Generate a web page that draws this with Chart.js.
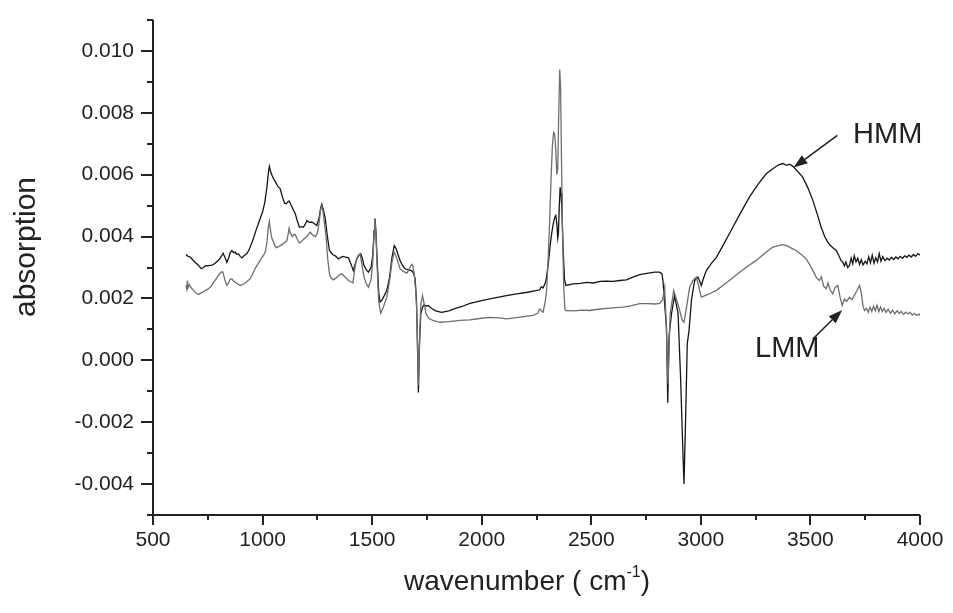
<!DOCTYPE html>
<html>
<head>
<meta charset="utf-8">
<script src="https://cdn.jsdelivr.net/npm/chart.js@4.4.1/dist/chart.umd.min.js"></script>
<style>
  html, body { margin: 0; padding: 0; background: #fff; }
  #wrap { width: 953px; height: 613px; position: relative; }
</style>
</head>
<body>
<div id="wrap"><canvas id="spectrum"></canvas></div>
<script>
// HMM (black) spectrum: wavenumber / absorption
const hmmWave = [650,660,670,680,690,700,710,720,730,740,750,760,770,780,790,800,810,820,830,837,845,852,860,868,875,882,890,898,906,915,928,940,950,960,970,980,990,1000,1010,1020,1027,1031,1036,1043,1050,1060,1070,1080,1090,1100,1108,1115,1121,1128,1138,1149,1158,1168,1178,1186,1195,1202,1212,1225,1235,1247,1258,1265,1270,1276,1285,1295,1305,1320,1335,1345,1354,1365,1375,1392,1404,1414,1422,1430,1440,1448,1455,1463,1473,1483,1495,1503,1509,1513,1517,1523,1530,1536,1545,1556,1567,1580,1590,1601,1610,1620,1627,1640,1650,1665,1680,1690,1696,1702,1706,1711,1716,1722,1730,1738,1746,1756,1770,1790,1817,1850,1880,1910,1946,1980,2020,2060,2113,2160,2210,2265,2272,2280,2290,2296,2305,2312,2319,2326,2333,2338,2343,2347,2350,2354,2358,2362,2366,2372,2378,2384,2417,2450,2480,2510,2540,2569,2600,2630,2660,2690,2721,2760,2790,2812,2822,2827,2835,2843,2849,2855,2866,2880,2896,2908,2916,2923,2931,2938,2946,2957,2964,2972,2987,3002,3012,3025,3050,3071,3100,3146,3180,3222,3260,3298,3330,3355,3374,3390,3405,3420,3440,3465,3490,3511,3530,3549,3565,3579,3590,3605,3618,3630,3640,3648,3655,3662,3670,3678,3686,3693,3700,3708,3716,3724,3732,3740,3750,3758,3766,3774,3782,3790,3798,3806,3814,3822,3830,3840,3850,3860,3870,3880,3890,3900,3910,3920,3930,3940,3950,3960,3970,3980,3990,4000];
const hmmAbs = [0.00342,0.00336,0.00334,0.00326,0.00318,0.00312,0.00305,0.00296,0.00300,0.00306,0.00305,0.00307,0.00308,0.00312,0.00318,0.00324,0.00334,0.00346,0.00330,0.00317,0.00330,0.00348,0.00355,0.00348,0.00350,0.00343,0.00344,0.00336,0.00331,0.00338,0.00344,0.00360,0.00378,0.00398,0.00420,0.00440,0.00460,0.00480,0.00510,0.00560,0.00610,0.00627,0.00612,0.00598,0.00587,0.00575,0.00562,0.00555,0.00530,0.00508,0.00506,0.00512,0.00515,0.00505,0.00490,0.00474,0.00452,0.00430,0.00432,0.00430,0.00440,0.00452,0.00446,0.00447,0.00442,0.00436,0.00460,0.00492,0.00505,0.00490,0.00463,0.00405,0.00355,0.00342,0.00336,0.00328,0.00331,0.00336,0.00334,0.00331,0.00310,0.00290,0.00310,0.00328,0.00340,0.00344,0.00330,0.00306,0.00293,0.00285,0.00300,0.00340,0.00420,0.00458,0.00420,0.00320,0.00220,0.00188,0.00195,0.00210,0.00226,0.00270,0.00330,0.00371,0.00360,0.00338,0.00323,0.00305,0.00296,0.00292,0.00290,0.00280,0.00263,0.00200,0.00080,-0.00104,0.00050,0.00150,0.00172,0.00180,0.00175,0.00177,0.00168,0.00160,0.00155,0.00160,0.00168,0.00174,0.00184,0.00190,0.00196,0.00202,0.00209,0.00215,0.00220,0.00228,0.00238,0.00234,0.00250,0.00269,0.00320,0.00370,0.00409,0.00440,0.00462,0.00468,0.00440,0.00395,0.00410,0.00500,0.00559,0.00540,0.00480,0.00350,0.00260,0.00242,0.00247,0.00249,0.00252,0.00250,0.00255,0.00256,0.00255,0.00258,0.00260,0.00269,0.00277,0.00282,0.00285,0.00285,0.00280,0.00258,0.00180,0.00107,-0.00137,0.00080,0.00151,0.00209,0.00151,-0.00066,-0.00250,-0.00400,-0.00173,0.00054,0.00096,0.00193,0.00226,0.00258,0.00269,0.00242,0.00265,0.00290,0.00315,0.00333,0.00370,0.00430,0.00475,0.00528,0.00568,0.00603,0.00620,0.00632,0.00636,0.00630,0.00634,0.00627,0.00612,0.00592,0.00555,0.00517,0.00475,0.00430,0.00400,0.00382,0.00372,0.00362,0.00355,0.00338,0.00322,0.00317,0.00305,0.00318,0.00300,0.00306,0.00330,0.00312,0.00338,0.00318,0.00330,0.00310,0.00325,0.00308,0.00320,0.00312,0.00335,0.00315,0.00340,0.00314,0.00332,0.00318,0.00345,0.00320,0.00335,0.00322,0.00330,0.00324,0.00333,0.00326,0.00334,0.00328,0.00336,0.00330,0.00338,0.00333,0.00340,0.00334,0.00342,0.00336,0.00345,0.00340];

// LMM (grey) spectrum
const lmmWave = [650,654,657,660,665,672,680,690,700,708,720,735,750,761,775,790,800,807,814,819,828,837,845,852,860,870,880,890,898,910,925,943,955,965,974,985,995,1004,1012,1020,1026,1031,1036,1042,1047,1055,1062,1075,1088,1100,1111,1116,1121,1127,1136,1142,1149,1158,1168,1178,1190,1202,1210,1217,1228,1240,1250,1258,1265,1270,1276,1283,1290,1297,1305,1313,1323,1335,1350,1361,1375,1392,1412,1420,1427,1436,1445,1453,1463,1473,1483,1495,1503,1509,1513,1517,1523,1530,1539,1550,1560,1567,1580,1590,1600,1610,1627,1640,1658,1666,1673,1680,1685,1692,1698,1703,1707,1711,1716,1722,1730,1738,1746,1760,1780,1809,1850,1900,1946,2000,2037,2080,2113,2160,2200,2235,2255,2265,2272,2280,2290,2296,2303,2310,2317,2323,2328,2333,2338,2343,2347,2351,2356,2360,2364,2369,2375,2380,2384,2420,2460,2493,2530,2570,2610,2645,2680,2721,2760,2790,2812,2825,2835,2843,2850,2860,2876,2900,2915,2923,2932,2949,2964,2979,2990,3002,3030,3071,3120,3177,3215,3253,3290,3329,3350,3374,3395,3415,3435,3458,3481,3500,3515,3526,3540,3550,3560,3572,3580,3590,3602,3612,3625,3635,3645,3655,3665,3678,3690,3700,3712,3724,3733,3740,3747,3756,3764,3772,3780,3788,3796,3804,3812,3820,3828,3836,3845,3855,3865,3875,3885,3895,3905,3915,3925,3935,3945,3955,3965,3975,3985,3995,4000];
const lmmAbs = [0.00242,0.00230,0.00258,0.00235,0.00245,0.00236,0.00230,0.00222,0.00216,0.00213,0.00218,0.00224,0.00230,0.00236,0.00250,0.00265,0.00276,0.00282,0.00286,0.00285,0.00260,0.00242,0.00250,0.00262,0.00263,0.00255,0.00250,0.00245,0.00242,0.00245,0.00252,0.00263,0.00280,0.00295,0.00306,0.00318,0.00330,0.00339,0.00350,0.00380,0.00430,0.00449,0.00420,0.00395,0.00387,0.00372,0.00364,0.00368,0.00374,0.00380,0.00387,0.00405,0.00427,0.00410,0.00400,0.00406,0.00407,0.00392,0.00379,0.00385,0.00393,0.00400,0.00408,0.00414,0.00405,0.00400,0.00410,0.00445,0.00488,0.00501,0.00480,0.00440,0.00398,0.00330,0.00280,0.00266,0.00260,0.00266,0.00276,0.00280,0.00270,0.00258,0.00250,0.00290,0.00322,0.00338,0.00344,0.00310,0.00269,0.00248,0.00236,0.00260,0.00320,0.00410,0.00452,0.00410,0.00300,0.00190,0.00152,0.00170,0.00190,0.00204,0.00260,0.00315,0.00350,0.00335,0.00296,0.00288,0.00282,0.00290,0.00301,0.00310,0.00306,0.00280,0.00230,0.00172,0.00050,-0.00080,0.00060,0.00180,0.00209,0.00180,0.00150,0.00135,0.00128,0.00123,0.00125,0.00129,0.00131,0.00136,0.00139,0.00137,0.00134,0.00138,0.00142,0.00145,0.00152,0.00166,0.00160,0.00155,0.00190,0.00226,0.00320,0.00450,0.00600,0.00700,0.00736,0.00730,0.00680,0.00600,0.00620,0.00780,0.00940,0.00880,0.00650,0.00400,0.00220,0.00165,0.00161,0.00160,0.00162,0.00161,0.00165,0.00168,0.00170,0.00172,0.00176,0.00183,0.00183,0.00182,0.00184,0.00195,0.00236,0.00100,-0.00076,0.00150,0.00226,0.00170,0.00130,0.00123,0.00160,0.00236,0.00258,0.00269,0.00240,0.00204,0.00212,0.00226,0.00252,0.00285,0.00305,0.00323,0.00345,0.00366,0.00370,0.00374,0.00370,0.00362,0.00355,0.00342,0.00328,0.00305,0.00285,0.00269,0.00258,0.00270,0.00240,0.00231,0.00250,0.00228,0.00215,0.00235,0.00242,0.00205,0.00177,0.00198,0.00190,0.00204,0.00196,0.00210,0.00225,0.00242,0.00215,0.00175,0.00161,0.00168,0.00155,0.00172,0.00158,0.00175,0.00160,0.00178,0.00157,0.00172,0.00158,0.00168,0.00155,0.00165,0.00152,0.00162,0.00150,0.00160,0.00152,0.00158,0.00148,0.00156,0.00150,0.00155,0.00146,0.00152,0.00145,0.00150,0.00145];

// axis range and tick steps
const xMin = 500, xMax = 4000, xStep = 250;
const yMin = -0.005, yMax = 0.011, yStep = 0.001;

// labels with arrows: text position, arrow tail, arrow head (data units)
const labels = [
  { text: 'HMM', at: [3640, 0.00727], tail: [3623, 0.00727], head: [3423, 0.00623], align: 'left' },
  { text: 'LMM', at: [3505, 0.00035], tail: [3511, 0.00069], head: [3645, 0.00163], align: 'right' }
];

const FONT = "'Liberation Sans', Arial, Helvetica, sans-serif";
const INK = '#222';

const pairs = (xs, ys) => xs.map((x, i) => ({ x: x, y: ys[i] }));

const decor = {
  id: 'decor',
  afterDraw(chart) {
    const ctx = chart.ctx;
    const xs = chart.scales.x, ys = chart.scales.y;
    const a = chart.chartArea;
    ctx.save();
    ctx.strokeStyle = INK;
    ctx.lineWidth = 2;
    ctx.lineCap = 'butt';
    // axis lines
    ctx.beginPath();
    ctx.moveTo(a.left, a.top);
    ctx.lineTo(a.left, a.bottom + 1);
    ctx.moveTo(a.left - 1, a.bottom);
    ctx.lineTo(a.right, a.bottom);
    ctx.stroke();
    // y ticks, long on labelled values
    for (let k = Math.round(yMin * 1000); k <= Math.round(yMax * 1000); k++) {
      const py = Math.round(ys.getPixelForValue(k / 1000));
      const len = (k % 2 === 0) ? 12 : 6;
      ctx.beginPath();
      ctx.moveTo(a.left, py);
      ctx.lineTo(a.left - len, py);
      ctx.stroke();
    }
    // x ticks
    for (let v = xMin; v <= xMax; v += xStep) {
      const px = Math.round(xs.getPixelForValue(v));
      const len = (v % 500 === 0) ? 10 : 5;
      ctx.beginPath();
      ctx.moveTo(px, a.bottom);
      ctx.lineTo(px, a.bottom + len);
      ctx.stroke();
    }

    // axis titles
    ctx.fillStyle = INK;
    ctx.textBaseline = 'alphabetic';
    const main = 'wavenumber ( cm';
    ctx.font = '28px ' + FONT;
    const w1 = ctx.measureText(main).width;
    ctx.font = '16px ' + FONT;
    const w2 = ctx.measureText('-1').width;
    ctx.font = '28px ' + FONT;
    const w3 = ctx.measureText(')').width;
    const tx = 527 - (w1 + w2 + w3) / 2;
    const ty = 590;
    ctx.textAlign = 'left';
    ctx.fillText(main, tx, ty);
    ctx.font = '16px ' + FONT;
    ctx.fillText('-1', tx + w1, ty - 13);
    ctx.font = '28px ' + FONT;
    ctx.fillText(')', tx + w1 + w2, ty);

    ctx.save();
    ctx.translate(35, 247);
    ctx.rotate(-Math.PI / 2);
    ctx.textAlign = 'center';
    ctx.font = '30px ' + FONT;
    ctx.fillText('absorption', 0, 0);
    ctx.restore();

    // annotations
    labels.forEach(l => {
      const hx = xs.getPixelForValue(l.head[0]), hy = ys.getPixelForValue(l.head[1]);
      const sx = xs.getPixelForValue(l.tail[0]), sy = ys.getPixelForValue(l.tail[1]);
      const ang = Math.atan2(hy - sy, hx - sx);
      const hl = 14, hw = 5;
      const bx = hx - hl * Math.cos(ang), by = hy - hl * Math.sin(ang);
      ctx.lineWidth = 1.6;
      ctx.beginPath();
      ctx.moveTo(sx, sy);
      ctx.lineTo(bx, by);
      ctx.stroke();
      ctx.beginPath();
      ctx.moveTo(hx, hy);
      ctx.lineTo(bx + hw * Math.sin(ang), by - hw * Math.cos(ang));
      ctx.lineTo(bx - hw * Math.sin(ang), by + hw * Math.cos(ang));
      ctx.closePath();
      ctx.fill();

      ctx.font = '29px ' + FONT;
      ctx.textAlign = l.align;
      ctx.textBaseline = 'middle';
      const px = xs.getPixelForValue(l.at[0]), py = ys.getPixelForValue(l.at[1]);
      ctx.fillText(l.text, l.align === 'left' ? px + 12 : px + 8, py);
    });
    ctx.restore();
  }
};

new Chart(document.getElementById('spectrum'), {
  type: 'scatter',
  data: {
    datasets: [
      {
        label: 'LMM',
        data: pairs(lmmWave, lmmAbs),
        showLine: true,
        borderColor: '#6e6e6e',
        borderWidth: 1.3,
        pointRadius: 0,
        tension: 0
      },
      {
        label: 'HMM',
        data: pairs(hmmWave, hmmAbs),
        showLine: true,
        borderColor: '#151515',
        borderWidth: 1.3,
        pointRadius: 0,
        tension: 0
      }
    ]
  },
  options: {
    responsive: true,
    maintainAspectRatio: false,
    animation: false,
    layout: { padding: { left: 0, top: 20, right: 33, bottom: 0 } },
    plugins: { legend: { display: false }, tooltip: { enabled: false } },
    scales: {
      x: {
        type: 'linear',
        min: xMin,
        max: xMax,
        grid: { display: false, drawTicks: false },
        border: { display: false },
        afterFit: s => { s.height = 98; s.paddingLeft = 0; s.paddingRight = 0; },
        ticks: {
          stepSize: xStep,
          padding: 13,
          color: INK,
          font: { family: FONT, size: 21 },
          maxRotation: 0,
          autoSkip: false,
          callback: v => (v % 500 === 0 ? String(v) : '')
        }
      },
      y: {
        type: 'linear',
        min: yMin,
        max: yMax,
        grid: { display: false, drawTicks: false },
        border: { display: false },
        afterFit: s => { s.width = 153; s.paddingTop = 0; s.paddingBottom = 0; },
        ticks: {
          stepSize: yStep,
          padding: 19,
          color: INK,
          font: { family: FONT, size: 21 },
          autoSkip: false,
          callback: v => {
            const k = Math.round(v * 1000);
            return (k % 2 === 0 && k <= 10) ? (k / 1000).toFixed(3) : '';
          }
        }
      }
    }
  },
  plugins: [decor]
});
</script>
</body>
</html>
